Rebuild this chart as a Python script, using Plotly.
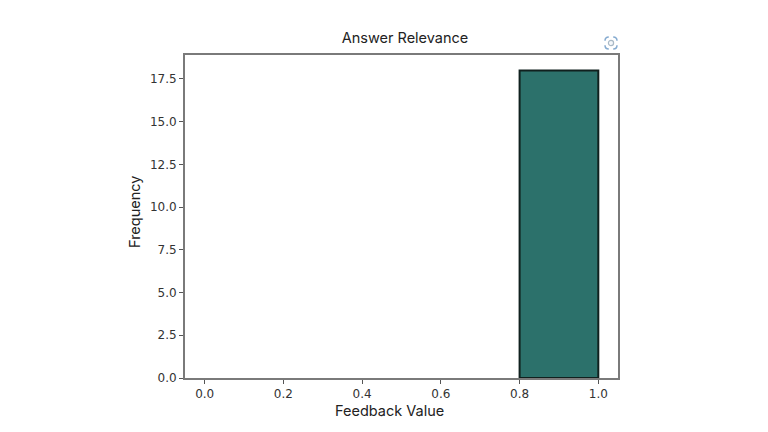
import plotly.graph_objects as go

bin_edges = [0.8, 1.0]
frequencies = [18]
x_ticks = [0.0, 0.2, 0.4, 0.6, 0.8, 1.0]
y_ticks = [0.0, 2.5, 5.0, 7.5, 10.0, 12.5, 15.0, 17.5]
title = "Answer Relevance"
x_label = "Feedback Value"
y_label = "Frequency"

FW, FH = 752, 416   # page body adds an 8px margin
OFF = 8
def px(x): return (x - OFF - 177) / (610 - 177)
def py(y): return 1 - (y - OFF - 47) / (370 - 47)

fig = go.Figure(go.Bar(
    x=[(bin_edges[0] + bin_edges[1]) / 2], y=frequencies,
    width=[bin_edges[1] - bin_edges[0]],
    marker=dict(color="#2c716b", line=dict(color="#10201e", width=2)),
))
tick_font = dict(family="DejaVu Sans", size=12, color="#333333")
label_font = dict(family="Inter", size=14.5, color="#222222")

# focus icon, top right of the chart
ic = "#86abd0"
cx, cy, r, g = 611, 43, 6, 2.2
shapes = [dict(type="circle", xref="paper", yref="paper",
               x0=px(cx-2.6), x1=px(cx+2.6), y0=py(cy+2.6), y1=py(cy-2.6),
               line=dict(width=1.2, color="#a9b9c6"), fillcolor="#f4f7fa")]
for sx in (-1, 1):
    for sy in (-1, 1):
        p0 = (cx + sx*r, cy + sy*g)
        p1 = (cx + sx*r, cy + sy*r)
        p2 = (cx + sx*g, cy + sy*r)
        shapes.append(dict(type="path", xref="paper", yref="paper",
                           path=f"M {px(p0[0])} {py(p0[1])} Q {px(p1[0])} {py(p1[1])} {px(p2[0])} {py(p2[1])}",
                           line=dict(color=ic, width=1.5)))

fig.update_layout(
    width=FW, height=FH, autosize=False, showlegend=False,
    paper_bgcolor="white", plot_bgcolor="white",
    margin=dict(l=177, r=FW-610, t=47, b=FH-370, autoexpand=False),
    title=dict(text=title, x=(405-OFF)/FW, xanchor="center", y=1-(38-OFF)/FH, yanchor="middle",
               font=label_font),
    shapes=shapes,
    annotations=[
        dict(text=x_label, xref="paper", yref="paper", x=px(389), y=py(410),
             xanchor="center", yanchor="middle", showarrow=False, font=label_font),
        dict(text=y_label, xref="paper", yref="paper", x=px(134), y=py(212),
             xanchor="center", yanchor="middle", showarrow=False, textangle=-90, font=label_font),
    ],
)
fig.update_xaxes(
    range=[-0.05, 1.05], tickvals=x_ticks,
    ticktext=[f"{v:.1f}" for v in x_ticks], ticks="outside", ticklen=4,
    tickcolor="#555555", tickfont=tick_font, showgrid=False, zeroline=False,
    showline=True, mirror=True, linecolor="#7a7a7a", linewidth=2,
)
fig.update_yaxes(
    range=[0, 18.9], tickvals=y_ticks,
    ticktext=[f"{v:.1f}" for v in y_ticks], ticks="outside", ticklen=4,
    tickcolor="#555555", tickfont=tick_font, showgrid=False, zeroline=False,
    showline=True, mirror=True, linecolor="#7a7a7a", linewidth=2,
)
fig.write_html("out.html", config=dict(displayModeBar=False))
